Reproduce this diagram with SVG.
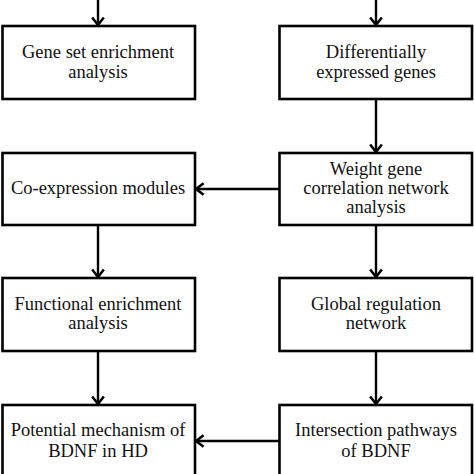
<svg xmlns="http://www.w3.org/2000/svg" width="474" height="474" viewBox="0 0 474 474">
<style>
.box{fill:#fff;stroke:#000;stroke-width:2.6}
.t{font-family:"Liberation Serif","Times New Roman",serif;font-size:18.5px;fill:#111;text-anchor:middle}
.c{fill:none;stroke:#000;stroke-width:2.4}
</style>
<defs>
<marker id="ah" markerUnits="userSpaceOnUse" markerWidth="14" markerHeight="14" viewBox="-8 -6 10 12" refX="0" refY="0" orient="auto">
<path d="M-6.5,-5 L0,0 L-6.5,5" fill="none" stroke="#000" stroke-width="2.2"/>
</marker>
</defs>
<rect width="474" height="474" fill="#fff"/>
<g id="connectors">
<line class="c" x1="98" y1="0" x2="98" y2="25" marker-end="url(#ah)"/>
<line class="c" x1="376" y1="0" x2="376" y2="25" marker-end="url(#ah)"/>
<line class="c" x1="376" y1="99" x2="376" y2="152" marker-end="url(#ah)"/>
<line class="c" x1="279" y1="189" x2="196" y2="189" marker-end="url(#ah)"/>
<line class="c" x1="98" y1="225" x2="98" y2="277" marker-end="url(#ah)"/>
<line class="c" x1="376" y1="225" x2="376" y2="277" marker-end="url(#ah)"/>
<line class="c" x1="98" y1="351" x2="98" y2="404" marker-end="url(#ah)"/>
<line class="c" x1="376" y1="351" x2="376" y2="404" marker-end="url(#ah)"/>
<line class="c" x1="279" y1="441" x2="196" y2="441" marker-end="url(#ah)"/>
</g>
<g id="gsea">
<rect class="box" x="2.5" y="26" width="192.5" height="73"/>
<text class="t" x="98" y="58">Gene set enrichment</text>
<text class="t" x="98" y="78">analysis</text>
</g>
<g id="deg">
<rect class="box" x="279.5" y="26" width="192.5" height="73"/>
<text class="t" x="376" y="58">Differentially</text>
<text class="t" x="376" y="78">expressed genes</text>
</g>
<g id="coexp">
<rect class="box" x="2.5" y="153" width="192.5" height="72"/>
<text class="t" x="98" y="194">Co-expression modules</text>
</g>
<g id="wgcna">
<rect class="box" x="279.5" y="153" width="192.5" height="72"/>
<text class="t" x="376" y="175">Weight gene</text>
<text class="t" x="376" y="194">correlation network</text>
<text class="t" x="376" y="213">analysis</text>
</g>
<g id="fea">
<rect class="box" x="2.5" y="278" width="192.5" height="73"/>
<text class="t" x="98" y="310">Functional enrichment</text>
<text class="t" x="98" y="329">analysis</text>
</g>
<g id="grn">
<rect class="box" x="279.5" y="278" width="192.5" height="73"/>
<text class="t" x="376" y="310">Global regulation</text>
<text class="t" x="376" y="329">network</text>
</g>
<g id="mech">
<rect class="box" x="2.5" y="405" width="192.5" height="80"/>
<text class="t" x="98" y="436">Potential mechanism of</text>
<text class="t" x="98" y="457">BDNF in HD</text>
</g>
<g id="inter">
<rect class="box" x="279.5" y="405" width="192.5" height="80"/>
<text class="t" x="376" y="436">Intersection pathways</text>
<text class="t" x="376" y="457">of BDNF</text>
</g>
</svg>
